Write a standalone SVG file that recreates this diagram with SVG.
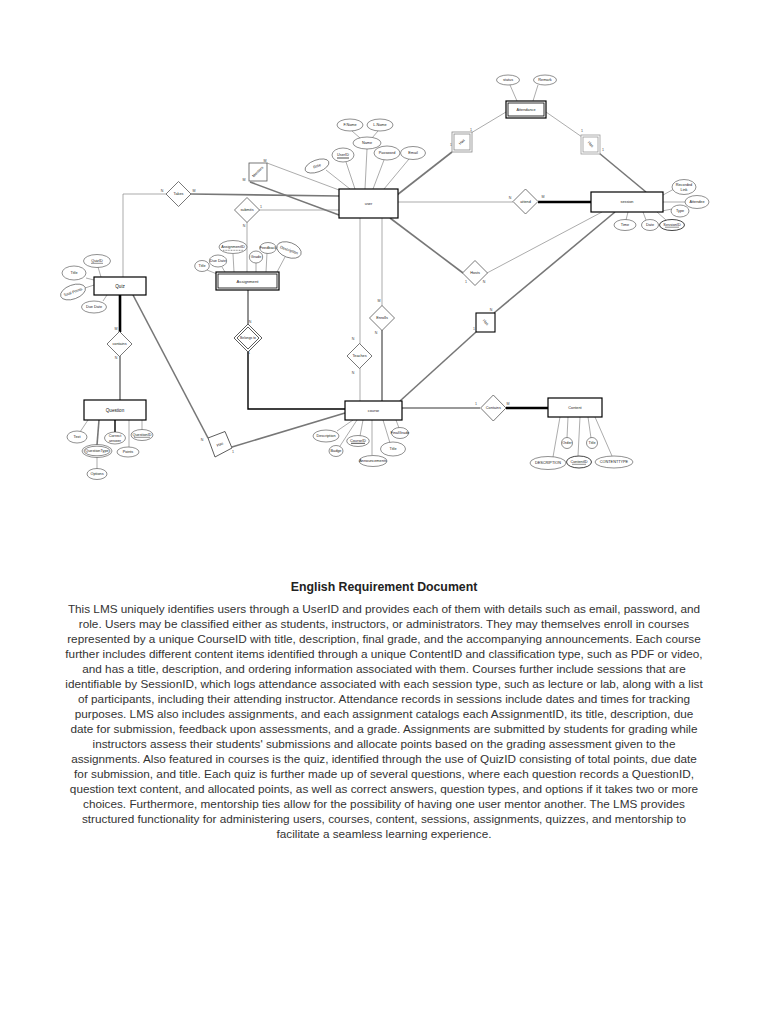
<svg xmlns="http://www.w3.org/2000/svg" width="768" height="1024" viewBox="0 0 768 1024">
<style>
.bg{fill:#fff}
.e{fill:#fff;stroke:#000;stroke-width:1.2}
.e2{fill:none;stroke:#000;stroke-width:0.8}
.a{fill:#fff;stroke:#444;stroke-width:0.6}
.r{fill:#fff;stroke:#555;stroke-width:0.8}
.t{font-family:"Liberation Sans",Arial,sans-serif;font-size:3.8px;fill:#222;text-anchor:middle}
.te{font-family:"Liberation Sans",Arial,sans-serif;font-size:4.6px;fill:#111;text-anchor:middle}
.c{font-family:"Liberation Sans",Arial,sans-serif;font-size:3.6px;fill:#444;text-anchor:middle}
.l{stroke:#888;stroke-width:0.7;fill:none}
.d{stroke:#777;stroke-width:1.6;fill:none}
.k{stroke:#000;stroke-width:2.6;fill:none}
.m{stroke:#000;stroke-width:1.4;fill:none}
.u{stroke:#222;stroke-width:0.5}
.h{font-family:"Liberation Sans",Arial,sans-serif;font-size:12.3px;font-weight:bold;fill:#222;text-anchor:middle}
.p{font-family:"Liberation Sans",Arial,sans-serif;font-size:11.75px;fill:#333;text-anchor:middle}
</style>
<rect class="bg" x="0" y="0" width="768" height="1024"/>

<g id="connectors">
  <line class="l" x1="510" y1="85" x2="517" y2="101"/>
  <line class="l" x1="538" y1="85" x2="533" y2="101"/>
  <line class="l" x1="506" y1="112" x2="471" y2="133"/>
  <line class="d" x1="452" y1="152" x2="397" y2="195"/>
  <line class="l" x1="546" y1="112" x2="582" y2="137"/>
  <line class="d" x1="599" y1="153" x2="646" y2="192"/>
  <line class="l" x1="398" y1="202" x2="513" y2="202"/>
  <line class="k" x1="538" y1="202" x2="591" y2="202"/>
  <line class="d" x1="390" y1="218" x2="463" y2="273"/>
  <line class="l" x1="487" y1="273" x2="602" y2="212"/>
  <line class="d" x1="615" y1="212" x2="494" y2="313"/>
  <line class="d" x1="476" y1="332" x2="400" y2="401"/>
  <line class="d" x1="191" y1="194" x2="339" y2="196"/>
  <polyline class="l" points="166,194 123,194 123,277"/>
  <line class="l" x1="259" y1="210" x2="339" y2="210"/>
  <line class="l" x1="247" y1="222" x2="247" y2="272"/>
  <line class="l" x1="267" y1="163" x2="339" y2="190"/>
  <line class="d" x1="250" y1="182" x2="339" y2="215"/>
  <line class="l" x1="360" y1="218" x2="360" y2="344"/>
  <line class="l" x1="360" y1="368" x2="360" y2="401"/>
  <line class="l" x1="382" y1="218" x2="382" y2="306"/>
  <line class="d" x1="382" y1="330" x2="382" y2="401"/>
  <line class="k" x1="120" y1="295" x2="120" y2="332"/>
  <line class="d" x1="120" y1="356" x2="120" y2="400"/>
  <line class="d" x1="133" y1="295" x2="208" y2="438"/>
  <line class="d" x1="232" y1="447" x2="345" y2="413"/>
  <line class="d" x1="248" y1="290" x2="248" y2="324"/>
  <polyline class="m" points="248,352 248,409 345,409"/>
  <line class="d" x1="402" y1="408" x2="480" y2="408"/>
  <line class="k" x1="506" y1="408" x2="548" y2="408"/>
  <line class="l" x1="674" y1="189" x2="663" y2="195"/>
  <line class="l" x1="685" y1="202" x2="663" y2="202"/>
  <line class="l" x1="672" y1="209" x2="662" y2="211"/>
  <line class="l" x1="626" y1="220" x2="628" y2="212"/>
  <line class="l" x1="646" y1="220" x2="643" y2="212"/>
  <line class="l" x1="666" y1="220" x2="657" y2="212"/>
  <line class="l" x1="352" y1="131" x2="360" y2="138"/>
  <line class="l" x1="378" y1="131" x2="372" y2="138"/>
  <line class="l" x1="367" y1="149" x2="365" y2="189"/>
  <line class="l" x1="326" y1="170" x2="350" y2="189"/>
  <line class="l" x1="346" y1="162" x2="355" y2="189"/>
  <line class="l" x1="384" y1="160" x2="373" y2="189"/>
  <line class="l" x1="409" y1="159" x2="384" y2="189"/>
  <line class="l" x1="98" y1="267" x2="101" y2="277"/>
  <line class="l" x1="86" y1="278" x2="94" y2="280"/>
  <line class="l" x1="85" y1="288" x2="94" y2="285"/>
  <line class="l" x1="103" y1="301" x2="107" y2="295"/>
  <line class="l" x1="207" y1="270" x2="217" y2="274"/>
  <line class="l" x1="222" y1="267" x2="225" y2="272"/>
  <line class="l" x1="233" y1="254" x2="234" y2="272"/>
  <line class="l" x1="256" y1="263" x2="256" y2="272"/>
  <line class="l" x1="267" y1="253" x2="266" y2="272"/>
  <line class="l" x1="285" y1="257" x2="277" y2="272"/>
  <line class="l" x1="80" y1="432" x2="88" y2="420"/>
  <line class="d" x1="97" y1="445" x2="99" y2="420"/>
  <line class="l" x1="97" y1="470" x2="97" y2="457"/>
  <line class="m" x1="115" y1="432" x2="115" y2="420"/>
  <line class="l" x1="129" y1="447" x2="129" y2="420"/>
  <line class="l" x1="142" y1="430" x2="142" y2="420"/>
  <line class="l" x1="337" y1="431" x2="353" y2="420"/>
  <line class="l" x1="340" y1="446" x2="357" y2="420"/>
  <line class="l" x1="360" y1="436" x2="363" y2="420"/>
  <line class="l" x1="372" y1="455" x2="372" y2="420"/>
  <line class="l" x1="390" y1="443" x2="383" y2="420"/>
  <line class="l" x1="399" y1="428" x2="396" y2="420"/>
  <line class="l" x1="553" y1="457" x2="560" y2="417"/>
  <line class="l" x1="567" y1="438" x2="568" y2="417"/>
  <line class="l" x1="578" y1="456" x2="580" y2="417"/>
  <line class="l" x1="591" y1="438" x2="588" y2="417"/>
  <line class="l" x1="612" y1="456" x2="595" y2="417"/>
</g>

<g id="cardinalities">
  <text class="c" x="582" y="132">1</text>
  <text class="c" x="603" y="151">1</text>
  <text class="c" x="471" y="131">1</text>
  <text class="c" x="451" y="146">1</text>
  <text class="c" x="510" y="199">N</text>
  <text class="c" x="543" y="198">M</text>
  <text class="c" x="466" y="283">1</text>
  <text class="c" x="484" y="283">N</text>
  <text class="c" x="491" y="311">N</text>
  <text class="c" x="474" y="330">1</text>
  <text class="c" x="162" y="192">N</text>
  <text class="c" x="194" y="192">M</text>
  <text class="c" x="261" y="208">1</text>
  <text class="c" x="244" y="227">N</text>
  <text class="c" x="265" y="162">M</text>
  <text class="c" x="244" y="181">M</text>
  <text class="c" x="379" y="302">M</text>
  <text class="c" x="376" y="334">N</text>
  <text class="c" x="353" y="340">N</text>
  <text class="c" x="353" y="374">N</text>
  <text class="c" x="116" y="330">M</text>
  <text class="c" x="116" y="359">N</text>
  <text class="c" x="202" y="441">N</text>
  <text class="c" x="233" y="453">1</text>
  <text class="c" x="250" y="323">N</text>
  <text class="c" x="249" y="354">1</text>
  <text class="c" x="476" y="405">1</text>
  <text class="c" x="508" y="405">M</text>
</g>

<g id="attendance">
  <rect class="e" x="506" y="101" width="40" height="17"/>
  <rect class="e2" x="508" y="103" width="36" height="13"/>
  <text class="t" x="526" y="111">Attendance</text>
</g>
<g id="attendance-attrs">
  <ellipse class="a" cx="508" cy="80" rx="11.5" ry="5"/><text class="t" x="508" y="81.3">status</text>
  <ellipse class="a" cx="545" cy="80" rx="11.5" ry="5"/><text class="t" x="545" y="81.3">Remark</text>
</g>

<g id="session">
  <rect class="e" x="591" y="192" width="72" height="20"/>
  <text class="t" x="627" y="203.3">session</text>
</g>
<g id="session-attrs">
  <ellipse class="a" cx="684" cy="187" rx="12" ry="7.5"/><text class="t" x="684" y="185.5">Recorded</text><text class="t" x="684" y="190.5">Link</text>
  <ellipse class="a" cx="697" cy="202" rx="12" ry="6.5"/><text class="t" x="697" y="203.3">Attendee</text>
  <ellipse class="a" cx="680" cy="211" rx="9" ry="6"/><text class="t" x="680" y="212.3">Type</text>
  <ellipse class="a" cx="625" cy="225" rx="11" ry="5.5"/><text class="t" x="625" y="226.3">Time</text>
  <ellipse class="a" cx="650" cy="225" rx="8.5" ry="5.5"/><text class="t" x="650" y="226.3">Date</text>
  <ellipse class="a" cx="672" cy="225" rx="12.5" ry="5.5" style="stroke-width:1"/><text class="t" x="672" y="226.3">SessionID</text>
  <line class="u" x1="665" y1="227.2" x2="679" y2="227.2"/>
</g>

<g id="user">
  <rect class="e" x="339" y="189" width="59" height="29"/>
  <text class="t" x="368.5" y="204.5">user</text>
</g>
<g id="user-attrs">
  <ellipse class="a" cx="350" cy="125" rx="13" ry="6"/><text class="t" x="350" y="126.3">F.Name</text>
  <ellipse class="a" cx="380" cy="125" rx="13" ry="6"/><text class="t" x="380" y="126.3">L.Name</text>
  <ellipse class="a" cx="367" cy="143" rx="14" ry="6"/><text class="t" x="367" y="144.3">Name</text>
  <ellipse class="a" cx="343" cy="155" rx="11" ry="7"/><text class="t" x="343" y="156.3">UserID</text>
  <line class="u" x1="337" y1="158" x2="349" y2="158" style="stroke-width:0.8"/>
  <g transform="rotate(-20 317 166)"><ellipse class="a" cx="317" cy="166" rx="12.5" ry="6"/><text class="t" x="317" y="167.3">Role</text></g>
  <ellipse class="a" cx="387" cy="153" rx="13" ry="7"/><text class="t" x="387" y="154.3">Password</text>
  <ellipse class="a" cx="413" cy="153" rx="12.5" ry="6.5"/><text class="t" x="413" y="154.3">Email</text>
</g>

<g id="mentors">
  <rect class="r" x="249" y="163" width="18" height="18"/>
  <text class="t" x="258" y="173" transform="rotate(-45 258 172)">Mentors</text>
</g>
<g id="has-user-attendance">
  <rect class="r" x="452" y="132" width="20" height="20" style="stroke:#888"/>
  <rect class="r" x="454" y="134" width="16" height="16" style="stroke:#888"/>
  <text class="t" x="462" y="143" transform="rotate(-45 462 142)">Has</text>
</g>
<g id="has-session-attendance">
  <rect class="r" x="581" y="135" width="19" height="19" style="stroke:#999"/>
  <rect class="r" x="583" y="137" width="15" height="15" style="stroke:#999"/>
  <text class="t" x="590.5" y="145.5" transform="rotate(45 590.5 144.5)">Has</text>
</g>
<g id="attend">
  <polygon class="r" points="525.5,189 538,201.5 525.5,214 513,201.5"/>
  <text class="t" x="525.5" y="202.8">attend</text>
</g>
<g id="hosts">
  <polygon class="r" points="475,260.5 487.5,273 475,285.5 462.5,273"/>
  <text class="t" x="475" y="274.3">Hosts</text>
</g>
<g id="has-course-session">
  <rect class="r" x="476" y="313" width="19" height="19" style="stroke:#000;stroke-width:1.1"/>
  <text class="t" x="485.5" y="323.5" transform="rotate(45 485.5 322.5)">Has</text>
</g>
<g id="takes">
  <polygon class="r" points="178.5,181.5 191,194 178.5,206.5 166,194"/>
  <text class="t" x="178.5" y="195.3">Takes</text>
</g>
<g id="submits">
  <polygon class="r" points="247,197.5 259.5,210 247,222.5 234.5,210"/>
  <text class="t" x="247" y="211.3">submits</text>
</g>
<g id="enrolls">
  <polygon class="r" points="382,305.5 394.5,318 382,330.5 369.5,318"/>
  <text class="t" x="382" y="319.3">Enrolls</text>
</g>
<g id="teaches">
  <polygon class="r" points="359.5,343.5 372,356 359.5,368.5 347,356"/>
  <text class="t" x="359.5" y="357.3">Teaches</text>
</g>

<g id="quiz">
  <rect class="e" x="94" y="277" width="52" height="18"/>
  <text class="te" x="120" y="287.6">Quiz</text>
</g>
<g id="quiz-attrs">
  <ellipse class="a" cx="97" cy="261" rx="13.5" ry="6.5"/><text class="t" x="97" y="262.3">QuizID</text>
  <line class="u" x1="91" y1="263.3" x2="103" y2="263.3"/>
  <ellipse class="a" cx="74" cy="273" rx="12" ry="7"/><text class="t" x="74" y="274.3">Title</text>
  <g transform="rotate(-20 73 292)"><ellipse class="a" cx="73" cy="292" rx="13" ry="7"/><text class="t" x="73" y="293.3">Total Points</text></g>
  <ellipse class="a" cx="94" cy="307" rx="12.5" ry="6"/><text class="t" x="94" y="308.3">Due Date</text>
</g>
<g id="contains-q">
  <polygon class="r" points="119.5,331.5 132,344 119.5,356.5 107,344"/>
  <text class="t" x="119.5" y="345.3">contains</text>
</g>

<g id="question">
  <rect class="e" x="84" y="400" width="62" height="20"/>
  <text class="te" x="115" y="411.6">Question</text>
</g>
<g id="question-attrs">
  <ellipse class="a" cx="77" cy="437" rx="10" ry="6"/><text class="t" x="77" y="438.3">Text</text>
  <ellipse class="a" cx="97" cy="451" rx="15" ry="6.5"/><ellipse class="a" cx="97" cy="451" rx="13" ry="4.8"/><text class="t" x="97" y="452.3">QuestionType</text>
  <ellipse class="a" cx="97" cy="474" rx="10" ry="5.5"/><text class="t" x="97" y="475.3">Options</text>
  <ellipse class="a" cx="115" cy="438" rx="10.5" ry="6"/><text class="t" x="115" y="437">Correct</text><text class="t" x="115" y="441.5">answer</text>
  <ellipse class="a" cx="128" cy="452" rx="11" ry="5"/><text class="t" x="128" y="453.3">Points</text>
  <ellipse class="a" cx="142" cy="435" rx="11" ry="5.5"/><text class="t" x="142" y="436.3">QuestionID</text>
  <line class="u" x1="134" y1="437.3" x2="150" y2="437.3"/>
</g>

<g id="assignment">
  <rect class="e" x="216" y="272" width="63" height="18"/>
  <rect class="e2" x="218" y="274" width="59" height="14"/>
  <text class="t" x="247.5" y="282.5" style="font-size:4.2px">Assignment</text>
</g>
<g id="assignment-attrs">
  <ellipse class="a" cx="202" cy="266" rx="7.3" ry="5.5"/><text class="t" x="202" y="267.3">Title</text>
  <ellipse class="a" cx="218" cy="261" rx="8.7" ry="6"/><text class="t" x="218" y="262.3">Due Date</text>
  <ellipse class="a" cx="233" cy="247" rx="14" ry="6.5"/><text class="t" x="233" y="248.3">AssignmentID</text>
  <line class="u" x1="223" y1="250.3" x2="243" y2="250.3" stroke-dasharray="1,0.6"/>
  <ellipse class="a" cx="256" cy="257" rx="6.7" ry="6"/><text class="t" x="256" y="258.3">Grade</text>
  <ellipse class="a" cx="268" cy="248" rx="8.3" ry="5.5"/><text class="t" x="268" y="249.3">Feedback</text>
  <g transform="rotate(20 289 250)"><ellipse class="a" cx="289" cy="250" rx="12.7" ry="7.5"/><text class="t" x="289" y="251.3">Description</text></g>
</g>
<g id="belongs-to">
  <polygon class="r" points="248,324 262,338 248,352 234,338" style="stroke:#333"/>
  <polygon class="r" points="248,327 259,338 248,349 237,338" style="stroke:#333"/>
  <text class="t" x="248" y="339.3" style="font-size:3.4px">Belongs to</text>
</g>
<g id="has-quiz-course">
  <polygon class="r" points="208,438 225,431.5 232,448 215,457" style="stroke:#333"/>
  <text class="t" x="220" y="445.5" transform="rotate(-22 220 444.5)">Has</text>
</g>

<g id="course">
  <rect class="e" x="345" y="401" width="57" height="19"/>
  <text class="t" x="373.5" y="411.8">course</text>
</g>
<g id="course-attrs">
  <ellipse class="a" cx="326" cy="436" rx="13" ry="6"/><text class="t" x="326" y="437.3">Description</text>
  <ellipse class="a" cx="358" cy="441" rx="11.3" ry="5.5"/><text class="t" x="358" y="442.3">CourseID</text>
  <line class="u" x1="351" y1="443.3" x2="365" y2="443.3" style="stroke-width:0.8"/>
  <ellipse class="a" cx="336" cy="451" rx="7" ry="5.5"/><text class="t" x="336" y="452.3">Badge</text>
  <ellipse class="a" cx="373" cy="461" rx="14" ry="5.5"/><text class="t" x="373" y="462.3">Announcements</text>
  <ellipse class="a" cx="393" cy="449" rx="12.5" ry="7"/><text class="t" x="393" y="450.3">Title</text>
  <ellipse class="a" cx="400" cy="433" rx="8.5" ry="5.5"/><text class="t" x="400" y="434.3">FinalGrade</text>
</g>
<g id="contains-c">
  <polygon class="r" points="493.3,395 506,408 493.3,421 480.6,408"/>
  <text class="t" x="493.3" y="409.3">Contains</text>
</g>

<g id="content">
  <rect class="e" x="548" y="398" width="54" height="19"/>
  <text class="t" x="575" y="408.8">Content</text>
</g>
<g id="content-attrs">
  <ellipse class="a" cx="567" cy="443" rx="5.5" ry="5.5"/><text class="t" x="567" y="444.3">Order</text>
  <ellipse class="a" cx="592" cy="443" rx="5.5" ry="5.5"/><text class="t" x="592" y="444.3">Title</text>
  <ellipse class="a" cx="548" cy="463" rx="18" ry="6.5"/><text class="t" x="548" y="464.3">DESCRIPTION</text>
  <ellipse class="a" cx="579" cy="462" rx="12.5" ry="6" style="stroke-width:1"/><text class="t" x="579" y="463.3">ContentID</text>
  <line class="u" x1="572" y1="464.3" x2="586" y2="464.3"/>
  <ellipse class="a" cx="614" cy="462" rx="19" ry="6"/><text class="t" x="614" y="463.3">CONTENTTYPE</text>
</g>

<g id="requirement-document">
  <text class="h" x="384" y="591">English Requirement Document</text>
  <text class="p" x="384" y="613">This LMS uniquely identifies users through a UserID and provides each of them with details such as email, password, and</text>
  <text class="p" x="384" y="628">role. Users may be classified either as students, instructors, or administrators. They may themselves enroll in courses</text>
  <text class="p" x="384" y="643">represented by a unique CourseID with title, description, final grade, and the accompanying announcements. Each course</text>
  <text class="p" x="384" y="658">further includes different content items identified through a unique ContentID and classification type, such as PDF or video,</text>
  <text class="p" x="384" y="673">and has a title, description, and ordering information associated with them. Courses further include sessions that are</text>
  <text class="p" x="384" y="688">identifiable by SessionID, which logs attendance associated with each session type, such as lecture or lab, along with a list</text>
  <text class="p" x="384" y="703">of participants, including their attending instructor. Attendance records in sessions include dates and times for tracking</text>
  <text class="p" x="384" y="718">purposes. LMS also includes assignments, and each assignment catalogs each AssignmentID, its title, description, due</text>
  <text class="p" x="384" y="733">date for submission, feedback upon assessments, and a grade. Assignments are submitted by students for grading while</text>
  <text class="p" x="384" y="748">instructors assess their students' submissions and allocate points based on the grading assessment given to the</text>
  <text class="p" x="384" y="763">assignments. Also featured in courses is the quiz, identified through the use of QuizID consisting of total points, due date</text>
  <text class="p" x="384" y="778">for submission, and title. Each quiz is further made up of several questions, where each question records a QuestionID,</text>
  <text class="p" x="384" y="793">question text content, and allocated points, as well as correct answers, question types, and options if it takes two or more</text>
  <text class="p" x="384" y="808">choices. Furthermore, mentorship ties allow for the possibility of having one user mentor another. The LMS provides</text>
  <text class="p" x="384" y="823">structured functionality for administering users, courses, content, sessions, assignments, quizzes, and mentorship to</text>
  <text class="p" x="384" y="838">facilitate a seamless learning experience.</text>
</g>
</svg>
